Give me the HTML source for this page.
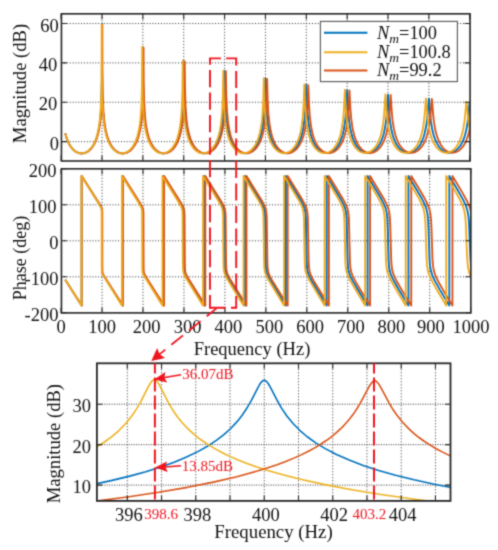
<!DOCTYPE html><html><head><meta charset="utf-8"><style>html,body{margin:0;padding:0;background:#fff}svg{display:block;will-change:transform}text{font-family:"Liberation Serif",serif;fill:#111}.r{fill:#F0141E}</style></head><body>
<svg width="498" height="550" viewBox="0 0 498 550">
<defs><filter id="bl" color-interpolation-filters="sRGB" x="0" y="0" width="498" height="550" filterUnits="userSpaceOnUse"><feConvolveMatrix order="3" kernelMatrix="0.04 0.1 0.04 0.1 0.44 0.1 0.04 0.1 0.04" edgeMode="duplicate"/></filter></defs>
<g filter="url(#bl)">
<rect width="498" height="550" fill="#fff"/>
<line x1="61.15" y1="141.65" x2="469.75" y2="141.65" stroke="#333333" stroke-width="1" stroke-dasharray="1 1.85" stroke-dashoffset="0"/>
<line x1="61.15" y1="102.27" x2="469.75" y2="102.27" stroke="#333333" stroke-width="1" stroke-dasharray="1 1.85" stroke-dashoffset="0"/>
<line x1="61.15" y1="62.88" x2="469.75" y2="62.88" stroke="#333333" stroke-width="1" stroke-dasharray="1 1.85" stroke-dashoffset="0"/>
<line x1="61.15" y1="23.50" x2="469.75" y2="23.50" stroke="#333333" stroke-width="1" stroke-dasharray="1 1.85" stroke-dashoffset="0"/>
<line x1="102.01" y1="13.80" x2="102.01" y2="161.00" stroke="#333333" stroke-width="1" stroke-dasharray="1 2" stroke-dashoffset="0"/>
<line x1="142.87" y1="13.80" x2="142.87" y2="161.00" stroke="#333333" stroke-width="1" stroke-dasharray="1 2" stroke-dashoffset="0"/>
<line x1="183.73" y1="13.80" x2="183.73" y2="161.00" stroke="#333333" stroke-width="1" stroke-dasharray="1 2" stroke-dashoffset="0"/>
<line x1="224.59" y1="13.80" x2="224.59" y2="161.00" stroke="#333333" stroke-width="1" stroke-dasharray="1 2" stroke-dashoffset="0"/>
<line x1="265.45" y1="13.80" x2="265.45" y2="161.00" stroke="#333333" stroke-width="1" stroke-dasharray="1 2" stroke-dashoffset="0"/>
<line x1="306.31" y1="13.80" x2="306.31" y2="161.00" stroke="#333333" stroke-width="1" stroke-dasharray="1 2" stroke-dashoffset="0"/>
<line x1="347.17" y1="13.80" x2="347.17" y2="161.00" stroke="#333333" stroke-width="1" stroke-dasharray="1 2" stroke-dashoffset="0"/>
<line x1="388.03" y1="13.80" x2="388.03" y2="161.00" stroke="#333333" stroke-width="1" stroke-dasharray="1 2" stroke-dashoffset="0"/>
<line x1="428.89" y1="13.80" x2="428.89" y2="161.00" stroke="#333333" stroke-width="1" stroke-dasharray="1 2" stroke-dashoffset="0"/>
<clipPath id="c1"><rect x="61.15" y="13.8" width="408.6" height="147.2"/></clipPath>
<g clip-path="url(#c1)" fill="none" stroke-width="1.85" stroke-linejoin="round">
<path d="M65.24,133.42 L66.44,137.64 L67.83,141.36 L69.44,144.64 L71.25,147.43 L73.26,149.74 L75.44,151.53 L77.76,152.75 L80.16,153.40 L82.62,153.45 L85.05,152.89 L87.41,151.73 L89.64,149.98 L91.68,147.72 L93.54,144.95 L95.18,141.69 L96.62,137.95 L98.29,131.85 L99.58,124.69 L100.54,116.18 L101.20,105.98 L101.84,79.48 L102.01,23.50 L102.11,69.94 L102.41,93.96 L103.11,111.15 L104.35,124.05 L105.36,130.11 L106.63,135.42 L108.16,140.05 L109.98,144.03 L112.11,147.41 L114.50,150.09 L117.14,152.03 L119.92,153.17 L123.00,153.47 L126.04,152.82 L128.96,151.24 L131.66,148.77 L134.04,145.53 L136.10,141.54 L137.84,136.81 L139.26,131.34 L140.25,125.92 L141.06,119.73 L141.68,112.59 L142.13,104.34 L142.65,83.86 L142.87,47.21 L143.06,81.16 L143.48,101.23 L144.34,116.16 L144.98,122.27 L145.77,127.67 L146.86,132.98 L148.18,137.67 L149.76,141.79 L151.58,145.31 L153.68,148.28 L156.00,150.61 L158.52,152.27 L161.17,153.22 L164.06,153.42 L166.93,152.77 L169.68,151.30 L172.24,149.04 L174.52,146.08 L176.52,142.46 L178.24,138.18 L179.68,133.22 L180.73,128.19 L181.58,122.57 L182.77,108.80 L183.39,91.10 L183.73,61.08 L184.03,89.41 L184.56,106.30 L185.54,119.61 L186.23,125.12 L187.08,130.04 L188.22,134.88 L189.56,139.13 L191.14,142.87 L192.95,146.07 L195.00,148.77 L197.25,150.87 L199.67,152.36 L202.19,153.21 L204.95,153.37 L207.69,152.76 L210.32,151.40 L212.78,149.32 L215.00,146.60 L216.97,143.26 L218.67,139.31 L220.12,134.77 L221.21,130.16 L222.11,124.97 L223.41,112.43 L224.12,96.84 L224.59,70.92 L225.01,95.36 L225.63,110.19 L226.71,122.26 L228.33,131.83 L229.49,136.24 L230.84,140.17 L232.41,143.61 L234.19,146.58 L236.19,149.06 L238.36,151.00 L240.68,152.37 L243.11,153.15 L245.76,153.30 L248.38,152.75 L250.91,151.50 L253.30,149.59 L255.46,147.08 L257.41,143.98 L259.11,140.34 L260.57,136.13 L261.70,131.81 L262.64,126.99 L264.03,115.51 L264.84,101.62 L265.45,78.55 L266.01,100.31 L266.70,113.35 L267.85,124.34 L269.54,133.24 L270.71,137.34 L272.07,140.98 L273.62,144.19 L275.36,146.94 L277.30,149.24 L279.40,151.04 L281.63,152.33 L283.95,153.06 L286.50,153.22 L289.03,152.73 L291.49,151.59 L293.81,149.83 L295.93,147.51 L297.85,144.64 L299.55,141.25 L301.02,137.35 L302.17,133.34 L303.16,128.85 L304.63,118.26 L305.53,105.90 L306.31,84.79 L307.04,104.74 L307.79,116.19 L309.01,126.22 L310.73,134.42 L311.90,138.22 L313.24,141.60 L314.76,144.58 L316.46,147.16 L318.33,149.31 L320.35,151.01 L322.49,152.22 L324.71,152.94 L327.18,153.13 L329.63,152.71 L332.02,151.68 L334.29,150.06 L336.38,147.91 L338.29,145.24 L339.99,142.08 L341.47,138.45 L342.65,134.71 L343.66,130.53 L345.23,120.75 L346.20,109.61 L347.17,90.06 L348.07,108.43 L348.87,118.54 L350.14,127.75 L351.88,135.35 L353.03,138.87 L354.35,142.02 L355.82,144.82 L357.46,147.22 L359.25,149.25 L361.18,150.86 L363.21,152.04 L365.33,152.76 L367.72,153.02 L370.11,152.69 L372.45,151.79 L374.68,150.33 L376.74,148.36 L378.65,145.89 L380.36,142.95 L381.88,139.56 L383.09,136.06 L384.13,132.19 L385.79,123.08 L386.85,112.99 L388.02,94.63 L389.13,111.84 L389.95,120.58 L391.23,128.95 L392.94,135.93 L394.06,139.21 L395.32,142.14 L396.73,144.75 L398.27,147.03 L399.95,148.96 L401.75,150.52 L403.65,151.70 L405.63,152.48 L407.98,152.87 L410.33,152.69 L412.64,151.96 L414.87,150.69 L416.95,148.91 L418.88,146.65 L420.64,143.91 L422.20,140.74 L423.46,137.47 L424.56,133.81 L426.32,125.30 L427.47,116.07 L428.88,98.66 L429.16,100.53 L430.18,114.69 L430.97,121.91 L432.18,129.30 L433.73,135.57 L435.84,141.29 L438.42,145.90 L439.88,147.80 L441.45,149.41 L443.11,150.72 L444.84,151.70 L447.19,152.49 L449.58,152.71 L451.97,152.35 L454.30,151.41 L456.51,149.93 L458.58,147.93 L460.47,145.44 L462.18,142.47 L463.56,139.40 L464.77,135.94 L465.84,132.08 L466.75,127.80 L468.05,119.03 L469.40,104.24 L469.72,102.28 L470.08,104.04 L471.38,118.49" stroke="#0072BD"/>
<path d="M65.24,133.29 L66.44,137.51 L67.83,141.24 L69.44,144.52 L71.26,147.33 L73.28,149.66 L75.47,151.46 L77.79,152.71 L80.20,153.38 L82.68,153.46 L85.13,152.92 L87.51,151.79 L89.76,150.08 L91.83,147.85 L93.71,145.10 L95.37,141.87 L96.83,138.17 L98.54,132.09 L99.86,124.91 L100.83,116.45 L101.51,106.24 L101.92,94.62 L102.17,79.61 L102.34,25.01 L102.44,70.74 L102.75,94.40 L103.46,111.48 L104.72,124.24 L105.75,130.28 L107.03,135.54 L108.58,140.15 L110.41,144.10 L112.56,147.46 L114.97,150.12 L117.61,152.04 L120.41,153.17 L123.50,153.47 L126.58,152.82 L129.52,151.23 L132.23,148.76 L134.62,145.54 L136.69,141.56 L138.44,136.85 L139.88,131.38 L140.89,125.92 L141.70,119.72 L142.32,112.65 L142.79,104.32 L143.31,83.51 L143.53,47.59 L143.72,81.29 L144.15,101.40 L145.03,116.33 L145.66,122.36 L146.47,127.73 L147.57,133.06 L148.90,137.72 L150.49,141.82 L152.32,145.32 L154.43,148.28 L156.76,150.61 L159.30,152.27 L161.96,153.22 L164.88,153.42 L167.76,152.78 L170.53,151.31 L173.11,149.06 L175.41,146.12 L177.44,142.49 L179.17,138.21 L180.62,133.28 L181.68,128.28 L182.54,122.68 L183.22,116.27 L183.75,108.95 L184.38,90.96 L184.72,61.35 L185.02,89.30 L185.55,106.33 L186.54,119.63 L187.24,125.15 L188.10,130.07 L189.25,134.90 L190.60,139.14 L192.19,142.86 L194.01,146.07 L196.07,148.75 L198.33,150.86 L200.77,152.36 L203.31,153.20 L206.09,153.37 L208.85,152.76 L211.50,151.41 L213.98,149.34 L216.22,146.62 L218.21,143.28 L219.92,139.36 L221.39,134.83 L222.49,130.19 L223.40,125.01 L224.70,112.56 L225.44,96.80 L225.91,71.20 L226.34,95.46 L226.96,110.28 L228.05,122.29 L229.69,131.86 L230.85,136.27 L232.22,140.19 L233.80,143.63 L235.59,146.58 L237.59,149.05 L239.78,150.99 L242.12,152.36 L244.55,153.14 L247.22,153.30 L249.87,152.75 L252.42,151.51 L254.83,149.61 L257.01,147.11 L258.97,144.02 L260.69,140.38 L262.16,136.21 L263.29,131.91 L264.24,127.12 L265.65,115.72 L266.47,101.85 L267.10,78.83 L267.67,100.52 L268.37,113.48 L269.54,124.45 L271.24,133.28 L272.41,137.37 L273.78,141.00 L275.34,144.19 L277.09,146.93 L279.04,149.23 L281.15,151.03 L283.39,152.31 L285.72,153.05 L288.29,153.22 L290.84,152.74 L293.32,151.60 L295.65,149.85 L297.79,147.54 L299.73,144.68 L301.45,141.30 L302.93,137.42 L304.10,133.43 L305.08,128.97 L306.58,118.45 L307.49,106.11 L308.29,85.07 L309.03,104.99 L309.79,116.34 L311.03,126.34 L312.76,134.47 L313.93,138.25 L315.28,141.62 L316.81,144.59 L318.52,147.15 L320.40,149.30 L322.43,150.99 L324.57,152.21 L326.81,152.93 L329.29,153.13 L331.76,152.71 L334.16,151.70 L336.45,150.09 L338.56,147.96 L340.48,145.31 L342.19,142.17 L343.70,138.55 L344.89,134.81 L345.91,130.67 L347.50,120.91 L348.49,109.80 L349.47,90.34 L350.40,108.71 L351.21,118.70 L352.48,127.83 L354.23,135.37 L355.39,138.88 L356.71,142.03 L358.19,144.80 L359.84,147.20 L361.63,149.22 L363.57,150.84 L365.61,152.02 L367.73,152.74 L370.14,153.01 L372.55,152.69 L374.91,151.81 L377.15,150.36 L379.25,148.40 L381.17,145.95 L382.90,143.02 L384.43,139.65 L385.65,136.15 L386.71,132.28 L388.39,123.22 L389.46,113.16 L390.66,94.91 L391.78,112.01 L392.61,120.69 L393.91,129.00 L395.61,135.91 L396.73,139.17 L398.00,142.10 L399.41,144.70 L400.95,146.97 L402.63,148.90 L404.44,150.47 L406.34,151.65 L408.32,152.44 L410.68,152.85 L413.06,152.70 L415.40,151.99 L417.65,150.73 L419.75,148.97 L421.71,146.72 L423.48,144.00 L425.06,140.85 L426.33,137.59 L427.44,133.97 L429.24,125.47 L430.40,116.31 L431.84,98.94 L432.13,100.73 L433.18,114.97 L433.95,121.92 L435.15,129.21 L436.68,135.38 L438.76,141.05 L441.30,145.66 L442.74,147.56 L444.29,149.19 L445.92,150.52 L447.63,151.54 L449.64,152.32 L451.69,152.68 L453.76,152.61 L455.80,152.13 L457.79,151.23 L459.69,149.93 L461.49,148.25 L463.16,146.19 L464.64,143.89 L465.98,141.29 L468.27,135.14 L470.04,127.68 L471.38,118.60" stroke="#D95319"/>
<path d="M65.24,133.55 L66.43,137.74 L67.82,141.45 L69.41,144.70 L71.20,147.47 L73.20,149.77 L75.35,151.54 L77.64,152.76 L80.02,153.40 L82.45,153.45 L84.87,152.89 L87.19,151.73 L89.40,150.00 L91.43,147.74 L93.26,144.98 L94.88,141.75 L96.31,138.04 L97.97,131.96 L99.26,124.78 L100.21,116.35 L100.87,106.17 L101.28,94.21 L101.52,79.05 L101.68,24.54 L101.78,69.61 L102.08,93.99 L102.77,111.12 L103.98,123.86 L104.97,129.90 L106.19,135.16 L107.68,139.77 L109.44,143.74 L111.50,147.13 L113.82,149.84 L116.36,151.83 L119.07,153.06 L120.60,153.39 L122.15,153.48 L123.69,153.33 L125.22,152.93 L128.16,151.42 L130.89,149.00 L133.29,145.79 L135.38,141.81 L137.14,137.09 L138.59,131.57 L139.60,126.09 L140.41,119.84 L141.03,112.69 L141.49,104.41 L142.00,83.76 L142.22,47.05 L142.40,80.82 L142.82,100.99 L143.65,115.85 L145.03,127.24 L146.07,132.54 L147.35,137.23 L148.86,141.34 L150.62,144.89 L152.64,147.90 L154.88,150.30 L157.32,152.05 L159.89,153.11 L162.80,153.45 L165.69,152.92 L168.49,151.53 L171.09,149.33 L173.41,146.41 L175.45,142.79 L177.20,138.50 L178.66,133.51 L179.73,128.50 L180.59,122.83 L181.28,116.35 L181.80,108.93 L182.43,90.80 L182.76,60.81 L183.04,88.64 L183.55,105.76 L184.49,119.05 L185.98,129.51 L187.06,134.31 L188.35,138.58 L189.86,142.34 L191.59,145.58 L193.56,148.33 L195.73,150.52 L198.06,152.11 L200.52,153.08 L203.29,153.40 L206.06,152.92 L208.74,151.66 L211.25,149.65 L213.52,146.97 L215.54,143.64 L217.28,139.69 L218.76,135.12 L219.87,130.46 L220.79,125.23 L221.53,119.34 L222.11,112.60 L222.83,96.75 L223.29,70.65 L223.71,95.07 L224.30,109.75 L225.33,121.71 L226.88,131.25 L227.98,135.67 L229.27,139.59 L230.77,143.05 L232.46,146.04 L234.36,148.58 L236.45,150.61 L238.68,152.09 L241.02,153.01 L243.70,153.33 L246.37,152.92 L248.96,151.78 L251.40,149.95 L253.63,147.48 L255.62,144.41 L257.37,140.76 L258.87,136.53 L260.02,132.21 L260.98,127.35 L261.76,121.93 L262.39,115.80 L263.22,101.65 L263.83,78.29 L264.37,99.82 L265.03,112.86 L266.13,123.74 L267.73,132.58 L268.83,136.66 L270.12,140.31 L271.58,143.52 L273.23,146.32 L275.07,148.69 L277.06,150.59 L279.20,152.00 L281.42,152.88 L284.00,153.25 L286.59,152.92 L289.11,151.91 L291.50,150.25 L293.70,147.97 L295.69,145.13 L297.44,141.74 L298.97,137.80 L300.16,133.76 L301.16,129.24 L302.67,118.55 L303.58,105.99 L304.37,84.52 L305.06,104.15 L305.77,115.49 L306.92,125.48 L308.54,133.62 L309.64,137.41 L310.89,140.79 L312.31,143.80 L313.89,146.41 L315.65,148.64 L317.55,150.45 L319.56,151.81 L321.67,152.70 L324.18,153.14 L326.71,152.92 L329.18,152.05 L331.53,150.56 L333.71,148.49 L335.70,145.85 L337.48,142.71 L339.04,139.04 L340.26,135.26 L341.31,131.05 L342.93,121.10 L343.93,109.61 L344.90,89.79 L345.76,107.94 L346.51,117.75 L347.68,126.79 L349.28,134.30 L350.34,137.82 L351.54,140.97 L352.90,143.79 L354.39,146.25 L356.04,148.37 L357.82,150.11 L359.71,151.46 L361.68,152.41 L364.14,152.97 L366.61,152.91 L369.05,152.23 L371.40,150.93 L373.60,149.06 L375.62,146.64 L377.43,143.72 L379.04,140.30 L380.32,136.76 L381.43,132.78 L383.16,123.47 L384.25,113.04 L385.43,94.36 L386.48,111.19 L387.22,119.53 L388.37,127.66 L389.89,134.47 L391.99,140.63 L393.22,143.26 L394.58,145.60 L396.07,147.64 L397.67,149.37 L399.38,150.77 L401.17,151.83 L403.59,152.66 L406.06,152.88 L408.52,152.47 L410.90,151.44 L413.17,149.83 L415.27,147.66 L417.18,144.96 L418.88,141.77 L420.24,138.46 L421.43,134.72 L422.45,130.58 L423.32,125.93 L424.53,116.33 L425.96,98.39 L427.83,120.27 L428.82,127.14 L430.08,133.08 L431.77,138.61 L433.83,143.27 L436.26,147.06 L439.03,149.94 L441.44,151.54 L443.98,152.47 L446.57,152.72 L449.15,152.28 L451.65,151.16 L454.01,149.40 L456.18,147.03 L458.15,144.07 L459.72,140.94 L461.10,137.38 L462.31,133.36 L463.33,128.87 L464.77,119.49 L466.18,103.82 L466.49,102.00 L466.80,103.51 L467.85,115.76 L468.76,123.42 L469.93,130.04 L471.38,135.72" stroke="#EFA91C"/>
</g>
<path d="M61.15,13.8v5.4M61.15,161.0v-5.4M102.01,13.8v5.4M102.01,161.0v-5.4M142.87,13.8v5.4M142.87,161.0v-5.4M183.73,13.8v5.4M183.73,161.0v-5.4M224.59,13.8v5.4M224.59,161.0v-5.4M265.45,13.8v5.4M265.45,161.0v-5.4M306.31,13.8v5.4M306.31,161.0v-5.4M347.17,13.8v5.4M347.17,161.0v-5.4M388.03,13.8v5.4M388.03,161.0v-5.4M428.89,13.8v5.4M428.89,161.0v-5.4M469.75,13.8v5.4M469.75,161.0v-5.4M61.45,141.65h5.4M470.05,141.65h-5.4M61.45,102.27h5.4M470.05,102.27h-5.4M61.45,62.88h5.4M470.05,62.88h-5.4M61.45,23.50h5.4M470.05,23.50h-5.4" stroke="#262626" stroke-width="1.1" fill="none"/>
<rect x="61.45" y="13.8" width="408.6" height="147.2" fill="none" stroke="#262626" stroke-width="1.6"/>
<line x1="61.15" y1="276.80" x2="469.75" y2="276.80" stroke="#333333" stroke-width="1" stroke-dasharray="1 1.85" stroke-dashoffset="0"/>
<line x1="61.15" y1="240.80" x2="469.75" y2="240.80" stroke="#333333" stroke-width="1" stroke-dasharray="1 1.85" stroke-dashoffset="0"/>
<line x1="61.15" y1="204.80" x2="469.75" y2="204.80" stroke="#333333" stroke-width="1" stroke-dasharray="1 1.85" stroke-dashoffset="0"/>
<line x1="102.06" y1="168.80" x2="102.06" y2="312.90" stroke="#333333" stroke-width="1" stroke-dasharray="1 2" stroke-dashoffset="0"/>
<line x1="143.01" y1="168.80" x2="143.01" y2="312.90" stroke="#333333" stroke-width="1" stroke-dasharray="1 2" stroke-dashoffset="0"/>
<line x1="183.97" y1="168.80" x2="183.97" y2="312.90" stroke="#333333" stroke-width="1" stroke-dasharray="1 2" stroke-dashoffset="0"/>
<line x1="224.92" y1="168.80" x2="224.92" y2="312.90" stroke="#333333" stroke-width="1" stroke-dasharray="1 2" stroke-dashoffset="0"/>
<line x1="265.88" y1="168.80" x2="265.88" y2="312.90" stroke="#333333" stroke-width="1" stroke-dasharray="1 2" stroke-dashoffset="0"/>
<line x1="306.84" y1="168.80" x2="306.84" y2="312.90" stroke="#333333" stroke-width="1" stroke-dasharray="1 2" stroke-dashoffset="0"/>
<line x1="347.79" y1="168.80" x2="347.79" y2="312.90" stroke="#333333" stroke-width="1" stroke-dasharray="1 2" stroke-dashoffset="0"/>
<line x1="388.75" y1="168.80" x2="388.75" y2="312.90" stroke="#333333" stroke-width="1" stroke-dasharray="1 2" stroke-dashoffset="0"/>
<line x1="429.70" y1="168.80" x2="429.70" y2="312.90" stroke="#333333" stroke-width="1" stroke-dasharray="1 2" stroke-dashoffset="0"/>
<clipPath id="c2"><rect x="61.15" y="166.8" width="409.70000000000005" height="148.09999999999997"/></clipPath>
<g clip-path="url(#c2)" fill="none" stroke-width="1.85" stroke-linejoin="round">
<path d="M65.24,279.68 L81.58,305.60 L81.59,176.01 L99.55,204.55 L101.72,208.38 L101.98,212.39 L102.03,267.88 L102.21,272.86 L102.66,274.01 L104.04,276.34 L122.44,305.60 L122.45,176.01 L139.42,203.07 L141.46,206.52 L142.29,208.39 L142.64,210.36 L142.78,214.07 L142.94,265.47 L143.04,270.35 L143.29,272.56 L143.97,274.45 L145.77,277.61 L163.30,305.60 L163.31,176.01 L179.50,201.94 L181.80,205.95 L182.86,208.38 L183.35,210.90 L183.57,215.25 L183.84,263.57 L184.01,269.32 L184.37,272.30 L185.24,274.78 L187.32,278.54 L204.16,305.60 L204.17,176.01 L219.70,201.05 L222.20,205.47 L223.42,208.36 L224.04,211.41 L224.34,216.33 L224.77,262.57 L225.00,268.64 L225.45,272.03 L226.49,275.05 L228.76,279.28 L245.02,305.60 L245.03,176.01 L260.00,200.31 L262.63,205.08 L264.00,208.38 L264.73,211.87 L265.11,217.05 L265.70,261.69 L265.99,267.92 L266.53,271.76 L267.70,275.24 L270.12,279.89 L285.88,305.60 L285.89,176.01 L300.34,199.65 L303.07,204.71 L304.56,208.36 L305.40,212.22 L305.86,217.71 L306.65,260.95 L307.00,267.36 L307.62,271.53 L308.91,275.42 L311.46,280.42 L326.74,305.60 L326.75,176.01 L340.71,199.07 L343.53,204.39 L345.13,208.36 L346.07,212.53 L346.61,218.29 L347.59,260.33 L348.01,266.87 L348.71,271.29 L350.11,275.58 L352.75,280.88 L357.60,289.20 L367.60,305.60 L367.61,176.01 L381.12,198.56 L384.00,204.08 L385.69,208.35 L386.73,212.86 L387.34,218.80 L387.73,227.66 L388.54,259.64 L389.03,266.35 L389.80,271.08 L391.31,275.71 L394.04,281.31 L398.85,289.69 L408.46,305.60 L408.47,176.01 L421.55,198.08 L424.48,203.80 L426.25,208.33 L427.39,213.15 L428.08,219.36 L428.53,228.25 L429.50,259.08 L430.05,265.89 L430.90,270.87 L432.49,275.81 L435.29,281.67 L440.06,290.12 L449.32,305.60 L449.33,176.01 L458.07,190.69 L462.91,199.35 L465.79,205.47 L467.49,210.74 L468.36,215.55 L468.96,221.78 L470.34,256.35 L470.79,262.79 L471.38,267.59" stroke="#0072BD"/>
<path d="M65.24,279.63 L81.74,305.60 L81.75,176.01 L99.86,204.55 L102.04,208.39 L102.30,212.18 L102.36,267.13 L102.55,272.87 L103.00,274.02 L104.40,276.38 L122.93,305.59 L122.94,176.01 L140.03,203.03 L142.09,206.50 L142.94,208.38 L143.30,210.46 L143.44,214.39 L143.60,265.61 L143.70,270.33 L143.96,272.57 L144.65,274.46 L146.48,277.65 L164.12,305.59 L164.13,176.00 L180.43,201.91 L182.77,205.94 L183.83,208.37 L184.33,210.99 L184.56,215.42 L184.84,263.97 L185.00,269.35 L185.36,272.28 L186.25,274.78 L188.35,278.56 L205.31,305.60 L205.32,176.01 L220.96,201.02 L223.48,205.45 L224.72,208.36 L225.35,211.42 L225.65,216.18 L226.09,262.65 L226.32,268.59 L226.78,272.02 L227.83,275.04 L230.12,279.30 L246.50,305.59 L246.51,176.01 L261.57,200.26 L264.23,205.05 L265.61,208.36 L266.37,211.88 L266.75,217.13 L267.35,261.58 L267.65,267.91 L268.20,271.76 L269.38,275.25 L271.83,279.91 L287.69,305.59 L287.69,176.00 L302.23,199.61 L304.99,204.67 L306.51,208.35 L307.36,212.24 L307.83,217.77 L308.63,260.97 L308.99,267.38 L309.61,271.49 L310.92,275.42 L313.49,280.42 L328.88,305.60 L328.89,176.01 L342.94,199.03 L345.78,204.35 L347.40,208.35 L348.35,212.56 L348.90,218.34 L349.91,260.23 L350.33,266.82 L351.04,271.26 L352.46,275.57 L355.12,280.89 L360.00,289.21 L370.07,305.59 L370.08,176.01 L383.68,198.54 L386.58,204.07 L388.29,208.35 L389.34,212.84 L389.97,218.85 L390.36,227.74 L391.19,259.62 L391.68,266.33 L392.47,271.06 L393.99,275.71 L396.74,281.32 L401.59,289.71 L411.25,305.59 L411.26,176.00 L419.65,189.81 L424.44,198.06 L427.39,203.79 L429.18,208.33 L430.32,213.14 L431.03,219.40 L431.49,228.28 L432.48,258.98 L433.04,265.89 L433.90,270.86 L435.52,275.83 L438.34,281.70 L443.14,290.15 L452.45,305.60 L452.46,176.01 L462.08,192.10 L467.09,201.21 L468.68,204.63 L469.86,207.70 L470.73,210.70 L471.38,213.93" stroke="#D95319"/>
<path d="M65.24,279.73 L81.42,305.60 L81.42,176.01 L99.26,204.58 L101.40,208.39 L101.65,212.01 L101.71,267.41 L101.89,272.87 L102.32,274.00 L103.69,276.34 L121.95,305.59 L121.96,176.01 L138.82,203.10 L140.83,206.53 L141.65,208.40 L142.00,210.34 L142.13,214.12 L142.28,265.03 L142.38,270.15 L142.63,272.57 L143.31,274.45 L145.09,277.60 L162.48,305.59 L162.49,176.00 L178.58,201.98 L180.86,205.97 L181.90,208.39 L182.39,210.99 L182.60,215.46 L182.87,263.80 L183.03,269.29 L183.38,272.28 L184.24,274.75 L186.29,278.50 L203.02,305.60 L203.03,176.01 L218.47,201.08 L220.94,205.49 L222.15,208.37 L222.76,211.43 L223.05,216.34 L223.47,262.68 L223.69,268.62 L224.13,272.02 L225.15,275.02 L227.39,279.23 L243.56,305.59 L243.57,176.01 L258.44,200.33 L261.05,205.09 L262.39,208.36 L263.11,211.78 L263.49,216.94 L264.08,261.74 L264.36,268.00 L264.89,271.75 L266.04,275.22 L268.43,279.84 L284.09,305.59 L284.10,176.00 L298.46,199.67 L301.17,204.72 L302.64,208.36 L303.47,212.21 L303.92,217.69 L304.69,260.96 L305.04,267.36 L305.65,271.53 L306.92,275.40 L309.45,280.39 L324.63,305.60 L324.64,176.01 L338.52,199.10 L341.31,204.40 L342.89,208.35 L343.82,212.53 L344.35,218.33 L345.31,260.32 L345.72,266.87 L346.41,271.30 L347.80,275.57 L350.41,280.85 L355.22,289.16 L365.16,305.59 L365.17,176.01 L378.62,198.60 L381.47,204.11 L383.13,208.35 L384.16,212.88 L384.77,218.88 L385.94,259.62 L386.41,266.36 L387.18,271.10 L388.67,275.71 L391.36,281.27 L396.14,289.65 L405.70,305.59 L405.71,176.00 L418.72,198.12 L421.62,203.81 L423.37,208.33 L424.49,213.12 L425.18,219.35 L425.62,228.27 L426.57,259.06 L427.11,265.91 L427.95,270.89 L429.53,275.82 L432.30,281.65 L437.03,290.09 L446.24,305.60 L446.25,176.01 L454.89,190.62 L459.67,199.23 L462.53,205.31 L464.23,210.50 L465.15,215.57 L465.77,222.36 L466.98,254.24 L467.65,264.09 L468.20,268.12 L468.94,271.56 L469.96,274.81 L471.38,278.26" stroke="#EFA91C"/>
</g>
<path d="M61.10,168.8v5.4M61.10,312.9v-5.4M102.06,168.8v5.4M102.06,312.9v-5.4M143.01,168.8v5.4M143.01,312.9v-5.4M183.97,168.8v5.4M183.97,312.9v-5.4M224.92,168.8v5.4M224.92,312.9v-5.4M265.88,168.8v5.4M265.88,312.9v-5.4M306.84,168.8v5.4M306.84,312.9v-5.4M347.79,168.8v5.4M347.79,312.9v-5.4M388.75,168.8v5.4M388.75,312.9v-5.4M429.70,168.8v5.4M429.70,312.9v-5.4M470.66,168.8v5.4M470.66,312.9v-5.4M61.45,312.80h5.4M470.85,312.80h-5.4M61.45,276.80h5.4M470.85,276.80h-5.4M61.45,240.80h5.4M470.85,240.80h-5.4M61.45,204.80h5.4M470.85,204.80h-5.4M61.45,168.80h5.4M470.85,168.80h-5.4" stroke="#262626" stroke-width="1.1" fill="none"/>
<rect x="61.45" y="168.8" width="409.40000000000003" height="144.09999999999997" fill="none" stroke="#262626" stroke-width="1.6"/>
<text x="58.90" y="149.65" font-size="18.5" text-anchor="end">0</text>
<text x="57.20" y="110.27" font-size="18.5" text-anchor="end">20</text>
<text x="57.30" y="70.88" font-size="18.5" text-anchor="end">40</text>
<text x="58.70" y="31.50" font-size="18.5" text-anchor="end">60</text>
<text x="58.40" y="320.80" font-size="18.5" text-anchor="end">-200</text>
<text x="58.40" y="284.80" font-size="18.5" text-anchor="end">-100</text>
<text x="58.40" y="248.80" font-size="18.5" text-anchor="end">0</text>
<text x="56.60" y="212.80" font-size="18.5" text-anchor="end">100</text>
<text x="56.60" y="176.80" font-size="18.5" text-anchor="end">200</text>
<text x="61.20" y="333" font-size="18.5" text-anchor="middle">0</text>
<text x="102.06" y="333" font-size="18.5" text-anchor="middle">100</text>
<text x="146.71" y="333" font-size="18.5" text-anchor="middle">200</text>
<text x="187.57" y="333" font-size="18.5" text-anchor="middle">300</text>
<text x="228.32" y="333" font-size="18.5" text-anchor="middle">400</text>
<text x="269.38" y="333" font-size="18.5" text-anchor="middle">500</text>
<text x="310.24" y="333" font-size="18.5" text-anchor="middle">600</text>
<text x="350.99" y="333" font-size="18.5" text-anchor="middle">700</text>
<text x="391.45" y="333" font-size="18.5" text-anchor="middle">800</text>
<text x="430.80" y="333" font-size="18.5" text-anchor="middle">900</text>
<text x="470.96" y="333" font-size="18.5" text-anchor="middle">1000</text>
<text transform="translate(25.8,83.5) rotate(-90)" font-size="18.6" text-anchor="middle">Magnitude (dB)</text>
<text transform="translate(25.8,258) rotate(-90)" font-size="18" text-anchor="middle">Phase (deg)</text>
<text x="252" y="354.6" font-size="18.5" text-anchor="middle">Frequency (Hz)</text>
<rect x="320.4" y="21.4" width="137" height="60.2" fill="#fff" stroke="#555" stroke-width="1.1"/>
<line x1="324" y1="32.7" x2="367.4" y2="32.7" stroke="#0072BD" stroke-width="2"/>
<text x="377" y="38.9" font-size="18.4"><tspan font-style="italic">N</tspan><tspan font-style="italic" font-size="13.5" dy="4">m</tspan><tspan dy="-4">=</tspan>100</text>
<line x1="324" y1="52.3" x2="367.4" y2="52.3" stroke="#EDB120" stroke-width="2"/>
<text x="377" y="58.1" font-size="18.4"><tspan font-style="italic">N</tspan><tspan font-style="italic" font-size="13.5" dy="4">m</tspan><tspan dy="-4">=</tspan>100.8</text>
<line x1="324" y1="70.4" x2="367.4" y2="70.4" stroke="#D95319" stroke-width="2"/>
<text x="377" y="76.1" font-size="18.4"><tspan font-style="italic">N</tspan><tspan font-style="italic" font-size="13.5" dy="4">m</tspan><tspan dy="-4">=</tspan>99.2</text>
<path d="M210,307.8V58.4H236.2V307.8Z" fill="none" stroke="#F0141E" stroke-width="1.9" stroke-dasharray="17.2 5.3" stroke-dashoffset="4.4"/>
<line x1="216.5" y1="308.4" x2="159.09" y2="354.63" stroke="#F0141E" stroke-width="1.8" stroke-dasharray="15 7.7" stroke-dashoffset="2.4"/>
<path d="M151.30,360.90L157.16,348.09L159.56,354.25L165.07,357.90Z" fill="#F0141E"/>
<line x1="96.90" y1="485.10" x2="450.50" y2="485.10" stroke="#333333" stroke-width="1" stroke-dasharray="1 1.45" stroke-dashoffset="0"/>
<line x1="96.90" y1="444.65" x2="450.50" y2="444.65" stroke="#333333" stroke-width="1" stroke-dasharray="1 1.45" stroke-dashoffset="0"/>
<line x1="96.90" y1="404.20" x2="450.50" y2="404.20" stroke="#333333" stroke-width="1" stroke-dasharray="1 1.45" stroke-dashoffset="0"/>
<line x1="127.30" y1="363.30" x2="127.30" y2="500.90" stroke="#333333" stroke-width="1" stroke-dasharray="1 2" stroke-dashoffset="0"/>
<line x1="161.54" y1="363.30" x2="161.54" y2="500.90" stroke="#333333" stroke-width="1" stroke-dasharray="1 2" stroke-dashoffset="0"/>
<line x1="195.78" y1="363.30" x2="195.78" y2="500.90" stroke="#333333" stroke-width="1" stroke-dasharray="1 2" stroke-dashoffset="0"/>
<line x1="230.02" y1="363.30" x2="230.02" y2="500.90" stroke="#333333" stroke-width="1" stroke-dasharray="1 2" stroke-dashoffset="0"/>
<line x1="264.26" y1="363.30" x2="264.26" y2="500.90" stroke="#333333" stroke-width="1" stroke-dasharray="1 2" stroke-dashoffset="0"/>
<line x1="298.50" y1="363.30" x2="298.50" y2="500.90" stroke="#333333" stroke-width="1" stroke-dasharray="1 2" stroke-dashoffset="0"/>
<line x1="332.74" y1="363.30" x2="332.74" y2="500.90" stroke="#333333" stroke-width="1" stroke-dasharray="1 2" stroke-dashoffset="0"/>
<line x1="366.98" y1="363.30" x2="366.98" y2="500.90" stroke="#333333" stroke-width="1" stroke-dasharray="1 2" stroke-dashoffset="0"/>
<line x1="401.22" y1="363.30" x2="401.22" y2="500.90" stroke="#333333" stroke-width="1" stroke-dasharray="1 2" stroke-dashoffset="0"/>
<line x1="435.46" y1="363.30" x2="435.46" y2="500.90" stroke="#333333" stroke-width="1" stroke-dasharray="1 2" stroke-dashoffset="0"/>
<clipPath id="c3"><rect x="96.9" y="363.3" width="353.6" height="137.59999999999997"/></clipPath>
<g clip-path="url(#c3)" fill="none" stroke-width="1.6" stroke-linejoin="round">
<path d="M93.06,484.49 L112.06,480.40 L129.70,476.11 L145.79,471.68 L160.68,467.00 L174.21,462.14 L186.54,457.03 L197.83,451.60 L207.94,445.93 L216.32,440.43 L223.86,434.65 L230.70,428.48 L236.87,421.91 L242.35,414.96 L247.48,407.22 L251.25,400.63 L257.93,387.59 L260.15,383.72 L261.35,382.08 L262.38,381.04 L263.40,380.42 L264.26,380.26 L265.12,380.43 L266.14,381.06 L268.20,383.49 L270.59,387.63 L277.44,400.98 L281.55,408.09 L286.86,415.93 L292.85,423.30 L299.70,430.30 L307.23,436.74 L315.79,442.90 L325.21,448.65 L336.51,454.51 L349.18,460.10 L363.21,465.42 L378.62,470.45 L395.57,475.26 L414.06,479.84 L434.26,484.24 L456.00,488.42" stroke="#0072BD"/>
<path d="M93.06,449.10 L102.65,443.26 L111.21,437.11 L118.91,430.52 L125.76,423.49 L131.75,416.08 L137.23,407.89 L141.34,400.65 L148.19,386.98 L150.58,382.78 L151.78,381.19 L152.81,380.25 L153.84,379.76 L154.69,379.73 L155.55,380.04 L156.58,380.85 L158.80,383.91 L168.39,402.60 L171.47,407.93 L174.72,412.97 L177.98,417.48 L181.40,421.74 L184.99,425.76 L188.76,429.57 L193.55,433.91 L198.69,438.05 L204.17,442.01 L210.16,445.89 L216.50,449.59 L223.34,453.19 L230.53,456.62 L238.24,459.96 L246.97,463.40 L256.21,466.70 L266.14,469.94 L276.59,473.05 L287.71,476.08 L299.36,478.99 L324.86,484.63 L353.11,489.95 L384.27,494.99 L418.51,499.77 L456.00,504.32" stroke="#EDB120"/>
<path d="M93.06,501.43 L127.30,496.97 L158.63,492.29 L187.39,487.34 L213.41,482.14 L236.87,476.67 L258.10,470.85 L267.86,467.81 L277.10,464.66 L285.66,461.47 L293.88,458.12 L301.07,454.89 L307.92,451.52 L314.25,448.09 L320.24,444.52 L325.89,440.79 L331.03,437.03 L335.82,433.13 L340.44,428.94 L344.04,425.32 L347.46,421.53 L350.72,417.56 L353.80,413.40 L357.05,408.53 L360.13,403.41 L370.06,384.96 L372.29,382.05 L373.31,381.24 L374.34,380.86 L375.37,380.92 L376.57,381.57 L377.77,382.75 L378.96,384.38 L381.19,388.18 L389.58,403.95 L393.00,409.55 L396.43,414.55 L402.59,422.28 L409.44,429.40 L414.06,433.54 L419.02,437.52 L424.16,441.23 L429.81,444.92 L435.80,448.46 L442.14,451.85 L448.81,455.11 L456.00,458.32" stroke="#D95319"/>
</g>
<path d="M127.30,363.3v5.4M127.30,500.9v-5.4M161.54,363.3v5.4M161.54,500.9v-5.4M195.78,363.3v5.4M195.78,500.9v-5.4M230.02,363.3v5.4M230.02,500.9v-5.4M264.26,363.3v5.4M264.26,500.9v-5.4M298.50,363.3v5.4M298.50,500.9v-5.4M332.74,363.3v5.4M332.74,500.9v-5.4M366.98,363.3v5.4M366.98,500.9v-5.4M401.22,363.3v5.4M401.22,500.9v-5.4M435.46,363.3v5.4M435.46,500.9v-5.4M96.9,485.10h5.4M450.5,485.10h-5.4M96.9,444.65h5.4M450.5,444.65h-5.4M96.9,404.20h5.4M450.5,404.20h-5.4" stroke="#262626" stroke-width="1.1" fill="none"/>
<rect x="96.9" y="363.3" width="353.6" height="137.59999999999997" fill="none" stroke="#262626" stroke-width="1.8"/>
<text x="91" y="493.10" font-size="18.5" text-anchor="end">10</text>
<text x="91" y="452.65" font-size="18.5" text-anchor="end">20</text>
<text x="91" y="412.20" font-size="18.5" text-anchor="end">30</text>
<text x="128.80" y="521" font-size="18.5" text-anchor="middle">396</text>
<text x="197.28" y="521" font-size="18.5" text-anchor="middle">398</text>
<text x="265.76" y="521" font-size="18.5" text-anchor="middle">400</text>
<text x="334.24" y="521" font-size="18.5" text-anchor="middle">402</text>
<text x="402.72" y="521" font-size="18.5" text-anchor="middle">404</text>
<text x="273.5" y="538.2" font-size="18.8" text-anchor="middle">Frequency (Hz)</text>
<text transform="translate(60,443.6) rotate(-90)" font-size="18.6" text-anchor="middle">Magnitude (dB)</text>
<line x1="154.9" y1="363.3" x2="154.9" y2="500.9" stroke="#F0141E" stroke-width="2" stroke-dasharray="14 4" stroke-dashoffset="3.8"/>
<line x1="374" y1="363.3" x2="374" y2="500.9" stroke="#F0141E" stroke-width="2" stroke-dasharray="14 4" stroke-dashoffset="3.8"/>
<line x1="181.1" y1="374.7" x2="163" y2="377.7" stroke="#F0141E" stroke-width="1.6"/>
<path d="M154.10,379.50L165.38,372.11L164.34,377.68L167.24,382.55Z" fill="#F0141E"/>
<line x1="181" y1="465.8" x2="165" y2="467" stroke="#F0141E" stroke-width="1.6"/>
<path d="M155.00,467.60L167.00,461.46L165.38,466.88L167.74,472.03Z" fill="#F0141E"/>
<text class="r" x="182.3" y="378.7" font-size="15">36.07dB</text>
<text class="r" x="181.8" y="470.6" font-size="15">13.85dB</text>
<text class="r" x="144.2" y="518.8" font-size="15">398.6</text>
<text class="r" x="352.4" y="518.8" font-size="15">403.2</text>
</g></svg></body></html>
